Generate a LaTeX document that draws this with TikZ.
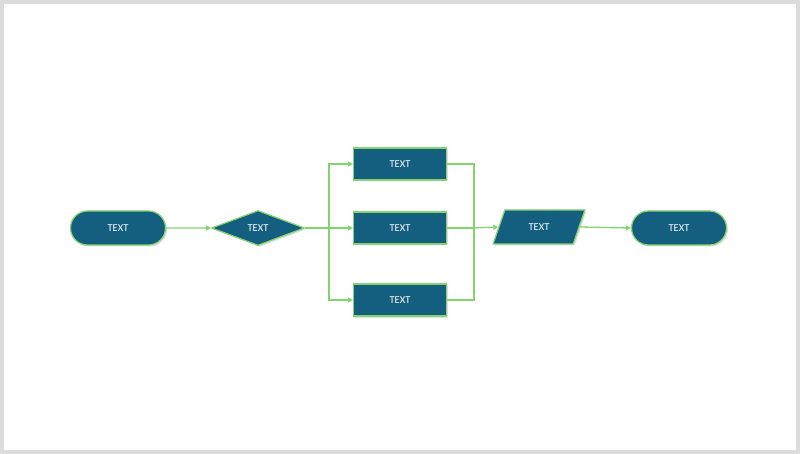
\documentclass[tikz,border=0pt]{standalone}
\usepackage{fontspec}
\setmainfont{Carlito}
\usetikzlibrary{shapes.geometric,shapes.misc,shadows,arrows.meta}
\definecolor{fillc}{HTML}{145E7F}
\definecolor{linec}{HTML}{84D46E}
\definecolor{framec}{HTML}{DCDCDC}
\begin{document}
\begin{tikzpicture}[x=1pt,y=-1pt,
  base/.style={fill=fillc,draw=linec,line width=1.2pt,text=white,font=\fontsize{10.5}{12}\selectfont,
    drop shadow={shadow xshift=1.5pt,shadow yshift=-1.5pt,opacity=0.25},inner sep=0pt},
  term/.style={base,rounded rectangle,minimum width=95pt,minimum height=34pt},
  dia/.style={base,diamond,aspect=2.7,minimum width=93pt,minimum height=35pt},
  box/.style={base,rectangle,minimum width=93pt,minimum height=32pt},
  para/.style={base,trapezium,trapezium left angle=62,trapezium right angle=118,minimum width=92pt,minimum height=34pt,trapezium stretches=true},
  con/.style={draw=linec,line width=1.3pt},
  arr/.style={con,-{Triangle[length=5pt,width=5pt]}}]
\fill[framec] (0,0) rectangle (800,454);
\fill[white] (4,4) rectangle (796,450);
\node[term] (t1) at (118,228) {TEXT};
\node[dia] (d) at (258,228) {TEXT};
\node[box] (b1) at (400,164) {TEXT};
\node[box] (b2) at (400,228) {TEXT};
\node[box] (b3) at (400,300) {TEXT};
\node[para] (p) at (539,227) {TEXT};
\node[term] (t2) at (679,228) {TEXT};
\coordinate (s) at (329,228);
\coordinate (m) at (474,228);
\draw[arr] (t1) -- (d);
\draw[con] (d.east) -- (s);
\draw[arr] (s) |- (b1.west);
\draw[arr] (s) -- (b2.west);
\draw[arr] (s) |- (b3.west);
\draw[con] (b1.east) -| (m);
\draw[con] (b3.east) -| (m);
\draw[con] (b2.east) -- (m);
\draw[arr] (m) -- (p.west);
\draw[arr] (p.east) -- (t2.west);
\end{tikzpicture}
\end{document}
